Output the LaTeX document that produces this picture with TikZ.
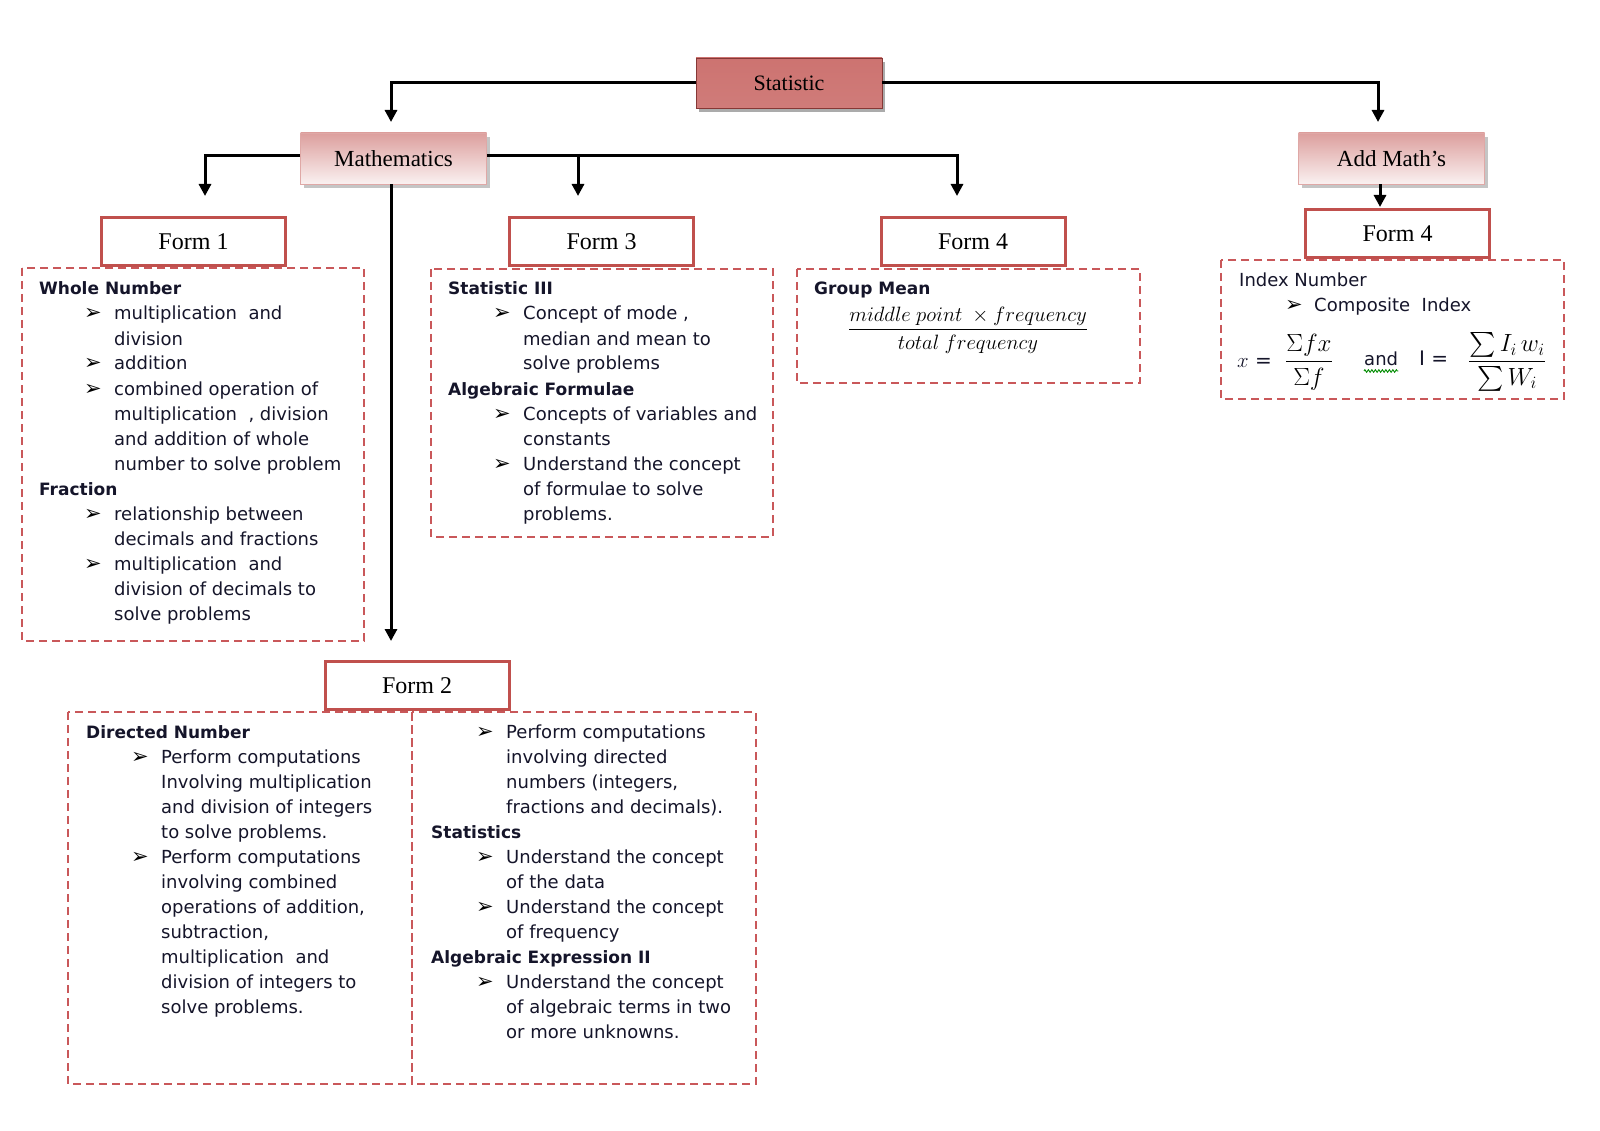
\documentclass[tikz,border=0pt]{standalone}
\usepackage{fontspec}
\usepackage{amsmath}
\setmainfont{Liberation Serif}
\newfontfamily\bodyf{DejaVu Sans}
\usetikzlibrary{arrows.meta,shadows,calc,decorations.pathmorphing}
\definecolor{redb}{HTML}{C0504D}
\definecolor{dashr}{HTML}{C9585A}
\definecolor{txtc}{HTML}{15152A}
\newcommand\Hd[4]{\node[hd] (#1) at (#2,#3+6) {#4};}
\newcommand\Bu[4]{\node[bu] (#1b) at (#2+45,#3+6) {➢}; \node[tx] (#1) at (#2+75,#3+6) {#4};}
\newcommand\Ct[4]{\node[tx] (#1) at (#2+75,#3+6) {#4};}
\begin{document}
\begin{tikzpicture}[x=1pt,y=-1pt,
  conn/.style={line width=3pt,-{Triangle[length=12pt,width=12pt]}},
  formbox/.style={draw=redb,line width=3pt,fill=white,minimum width=184pt,minimum height=48pt,inner sep=0pt,font=\fontsize{24}{28}\selectfont},
  dbox/.style={draw=dashr,line width=1.6pt,dash pattern=on 8pt off 5pt},
  topbox/.style={draw=redb!70!black,line width=0.8pt,minimum width=186pt,minimum height=50pt,inner sep=0pt,
     font=\fontsize{22}{26}\selectfont,top color=redb!80!white,middle color=redb!85!black,bottom color=redb!75!white,
     drop shadow={shadow xshift=3pt,shadow yshift=-4pt,fill=black!65}},
  subbox/.style={draw=redb!50!white,line width=0.8pt,minimum width=186pt,minimum height=51pt,inner sep=0pt,
     font=\fontsize{23}{28}\selectfont,top color=redb!55!white,bottom color=redb!8!white,
     drop shadow={shadow xshift=3pt,shadow yshift=-4pt,fill=black!45}},
  tx/.style={anchor=base west,inner sep=0pt,text=txtc,font=\bodyf\fontsize{18}{25}\selectfont},
  hd/.style={tx,font=\bodyf\bfseries\fontsize{17}{25}\selectfont},
  bu/.style={tx,text=black,font=\bodyf\fontsize{21}{25}\selectfont}
]
\useasboundingbox (0,0) rectangle (1600,1131);
\fill[white] (0,0) rectangle (1600,1131);

% dashed content boxes
\draw[dbox] (22,268) rectangle (364,641);
\draw[dbox] (431,269) rectangle (773,537);
\draw[dbox] (797,269) rectangle (1140,383);
\draw[dbox] (1221,260) rectangle (1564,399);
\draw[dbox] (68,712) rectangle (412,1084);
\draw[dbox] (412,712) rectangle (756,1084);

% top level boxes
\node[topbox] (stat) at (789,83) {Statistic};
\node[subbox] (math) at (393.5,158.5) {Mathematics};
\node[subbox] (addm) at (1391.5,158.5) {Add Math’s};

% form boxes
\node[formbox] (form1) at (193.5,241.5) {Form 1};
\node[formbox] (form3) at (601.5,242) {Form 3};
\node[formbox] (form4) at (973,242) {Form 4};
\node[formbox] (form4b) at (1397.5,233.5) {Form 4};
\node[formbox] (form2) at (417,685.5) {Form 2};

% connector end points
\coordinate (a1) at (391,122);
\coordinate (a2) at (1378,122);
\coordinate (a3) at (205,196);
\coordinate (a4) at (957,196);
\coordinate (a5) at (578,196);
\coordinate (a6) at (391,641);
\coordinate (a7) at (1380,207);

\draw[conn] (stat.west) -| (a1);
\draw[conn] (stat.east) -| (a2);
\draw[conn] ($(math.west)+(0,-3)$) -| (a3);
\draw[conn] ($(math.east)+(0,-3)$) -| (a4);
\draw[conn] ($(a5 |- math.east)+(0,-4.5)$) -- (a5);
\draw[conn] (math.south -| a6) -- (a6);
\draw[conn] (addm.south -| a7) -- (a7);

% Form 1 content
\Hd{f1a}{39}{289}{Whole Number}
\Bu{f1b}{39}{314}{multiplication\ \ and}
\Ct{f1c}{39}{339}{division}
\Bu{f1d}{39}{364}{addition}
\Bu{f1e}{39}{389}{combined operation of}
\Ct{f1f}{39}{414}{multiplication\ \ , division}
\Ct{f1g}{39}{439}{and addition\ of whole}
\Ct{f1h}{39}{464}{number to solve problem}
\Hd{f1i}{39}{489}{Fraction}
\Bu{f1j}{39}{514}{relationship between}
\Ct{f1k}{39}{539}{decimals and fractions}
\Bu{f1l}{39}{564}{multiplication\ \ and}
\Ct{f1m}{39}{589}{division of decimals to}
\Ct{f1n}{39}{614}{solve problems}

% Form 3 content
\Hd{f3a}{448}{289}{Statistic III}
\Bu{f3b}{448}{314}{Concept of mode ,}
\Ct{f3c}{448}{339}{median and mean to}
\Ct{f3d}{448}{364}{solve problems}
\Hd{f3e}{448}{389}{Algebraic Formulae}
\Bu{f3f}{448}{414}{Concepts of variables and}
\Ct{f3g}{448}{439}{constants}
\Bu{f3h}{448}{464}{Understand the concept}
\Ct{f3i}{448}{489}{of formulae to solve}
\Ct{f3j}{448}{514}{problems.}

% Form 4 content
\Hd{f4a}{814}{289}{Group Mean}
\node[inner sep=0pt,font=\fontsize{21}{25}\selectfont] (f4f) at (968,330)
  {$\dfrac{middle\ point\ \times frequency}{total\ frequency}$};

% Add Math Form 4 content
\node[tx] (amA) at (1239,287) {Index Number};
\node[bu] (amBb) at (1285,312) {➢};
\node[tx] (amB) at (1314,312) {Composite\ \ Index};
\node[tx,font=\bodyf\fontsize{20}{25}\selectfont] (amX) at (1237,367) {$x$ =};
\node[inner sep=0pt,font=\fontsize{26}{30}\selectfont] (amF1) at (1309,362) {$\dfrac{\Sigma fx}{\Sigma f}$};
\node[tx] (amAnd) at (1364,366) {and};
\draw[green!55!black,line width=0.9pt,decorate,decoration={zigzag,amplitude=1.3pt,segment length=3.5pt}]
  ($(amAnd.base west)+(0,5)$) -- ($(amAnd.base east)+(0,5)$);
\node[tx,font=\bodyf\fontsize{20}{25}\selectfont] (amI) at (1419,366) {I =};
\node[inner sep=0pt,font=\fontsize{26}{30}\selectfont] (amF2) at (1507,362) {$\dfrac{\textstyle\sum I_i\, w_i}{\textstyle\sum W_i}$};

% Form 2 left content
\Hd{f2a}{86}{732}{Directed Number}
\Bu{f2b}{86}{757}{Perform computations}
\Ct{f2c}{86}{782}{Involving multiplication}
\Ct{f2d}{86}{807}{and division\ of integers}
\Ct{f2e}{86}{832}{to solve problems.}
\Bu{f2f}{86}{857}{Perform computations}
\Ct{f2g}{86}{882}{involving combined}
\Ct{f2h}{86}{907}{operations of addition,}
\Ct{f2i}{86}{932}{subtraction,}
\Ct{f2j}{86}{957}{multiplication\ \ and}
\Ct{f2k}{86}{982}{division of integers to}
\Ct{f2l}{86}{1007}{solve problems.}

% Form 2 right content
\Bu{f2m}{431}{732}{Perform computations}
\Ct{f2n}{431}{757}{involving directed}
\Ct{f2o}{431}{782}{numbers (integers,}
\Ct{f2p}{431}{807}{fractions and decimals).}
\Hd{f2q}{431}{832}{Statistics}
\Bu{f2r}{431}{857}{Understand the\ concept}
\Ct{f2s}{431}{882}{of the data}
\Bu{f2t}{431}{907}{Understand the\ concept}
\Ct{f2u}{431}{932}{of frequency}
\Hd{f2v}{431}{957}{Algebraic Expression\ II}
\Bu{f2w}{431}{982}{Understand the\ concept}
\Ct{f2x}{431}{1007}{of algebraic terms in two}
\Ct{f2y}{431}{1032}{or more unknowns.}
\end{tikzpicture}
\end{document}
